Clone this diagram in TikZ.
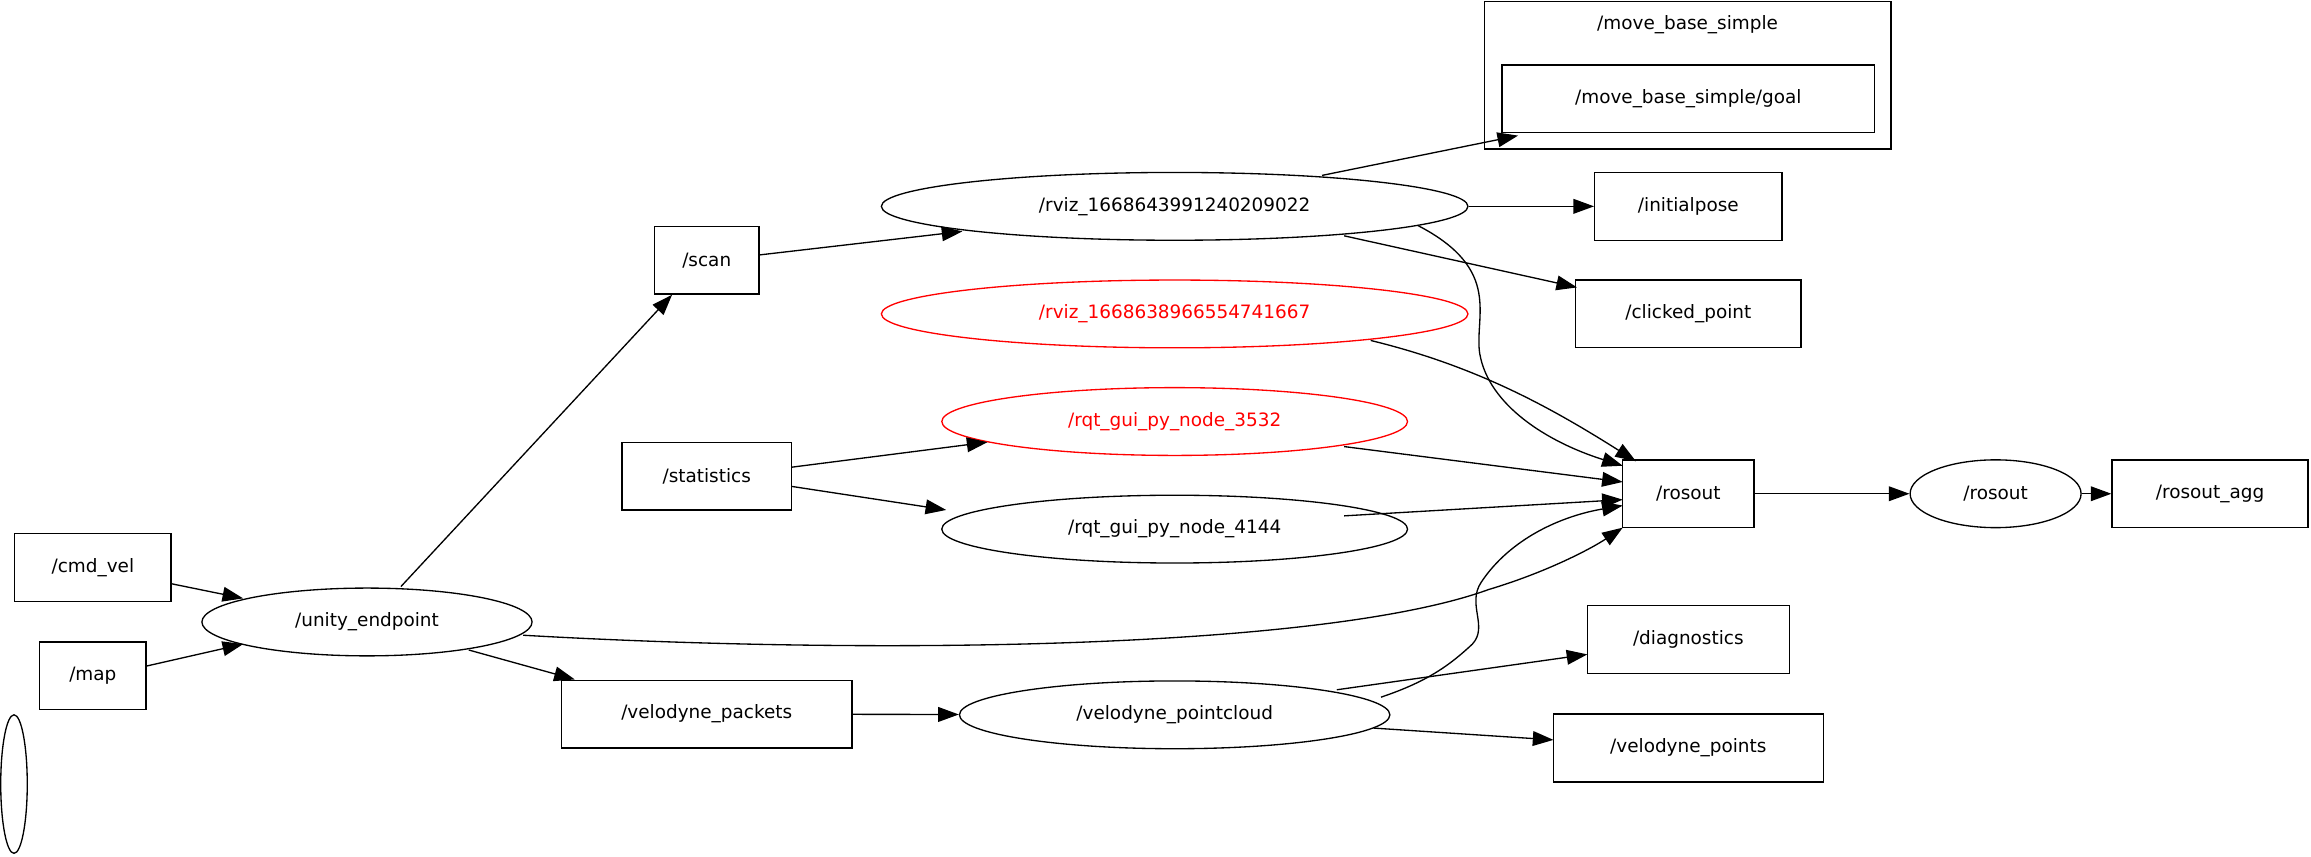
\documentclass[tikz,border=0pt]{standalone}
\usepackage{fontspec}
\setmainfont{DejaVu Sans}
\usetikzlibrary{arrows.meta,shapes.geometric}
\begin{document}
\begin{tikzpicture}[x=1pt,y=-1pt,
  every node/.style={font=\fontsize{12.5}{14}\selectfont, inner sep=0pt},
  box/.style={draw,line width=0.9pt,minimum width=#1,minimum height=46pt},
  ell/.style={draw,ellipse,line width=0.9pt,minimum height=46pt},
  red ell/.style={ell,draw=red,text=red},
  e/.style={line width=0.9pt,-{Triangle[length=14pt,width=10pt]}}]
\useasboundingbox (0,0) rectangle (1568,581);
\draw[line width=0.9pt] (1007,1) rectangle (1283,101);
\node (cl) at (1145,17) {/move\_base\_simple};
\node[box=253pt] (goal) at (1145.5,67) {/move\_base\_simple/goal};
\node[ell,minimum width=398pt] (rv1) at (797,140) {/rviz\_1668643991240209022};
\node[box=127pt] (ip) at (1145.5,140) {/initialpose};
\node[box=153pt] (cp) at (1145.5,213) {/clicked\_point};
\node[red ell,minimum width=398pt] (rv2) at (797,213) {/rviz\_1668638966554741667};
\node[box=71pt] (scan) at (479.5,176.5) {/scan};
\node[box=115pt] (stat) at (479.5,323) {/statistics};
\node[red ell,minimum width=316pt] (q1) at (797,286) {/rqt\_gui\_py\_node\_3532};
\node[ell,minimum width=316pt] (q2) at (797,359) {/rqt\_gui\_py\_node\_4144};
\node[box=89pt] (ro) at (1145.5,335) {/rosout};
\node[ell,minimum width=116pt] (roe) at (1354,335) {/rosout};
\node[box=133pt] (agg) at (1499.5,335) {/rosout\_agg};
\node[box=106pt] (cmd) at (63,385) {/cmd\_vel};
\node[box=72pt] (map) at (63,458.5) {/map};
\node[ell,minimum width=224pt] (un) at (249,422) {/unity\_endpoint};
\node[box=197pt] (vp) at (479.5,484.5) {/velodyne\_packets};
\node[ell,minimum width=292pt] (pc) at (797,485) {/velodyne\_pointcloud};
\node[box=137pt] (dg) at (1145.5,434) {/diagnostics};
\node[box=183pt] (vpt) at (1145.5,507.5) {/velodyne\_points};
\node[ell,minimum width=18pt,minimum height=94pt] (sm) at (9.5,532) {};

\draw[e] (897,119) -- (1030,92);
\draw[e] (rv1) -- (ip);
\draw[e] (912,160) -- (1070,195);
\draw[e] (962,153) .. controls (1020,183) and (1000,215) .. (1004,240) .. controls (1010,275) and (1050,300) .. (1101,316);
\draw[e] (930,231) .. controls (1000,248) and (1050,275) .. (1110,313);
\draw[e] (515,173) -- (653,157);
\draw[e] (272,398) -- (456,200);
\draw[e] (537,317) -- (670,300);
\draw[e] (537,330) -- (642,346);
\draw[e] (912,303) -- (1101,327);
\draw[e] (912,350) -- (1101,339);
\draw[e] (355,431) .. controls (600,445) and (900,440) .. (1010,400) .. controls (1050,388) and (1080,372) .. (1101,358);
\draw[e] (937,473) .. controls (970,462) and (985,450) .. (999,437) .. controls (1010,425) and (995,410) .. (1005,395) .. controls (1025,365) and (1060,350) .. (1101,343);
\draw[e] (116,396) -- (165,406);
\draw[e] (99,452) -- (165,437);
\draw[e] (318,441) -- (390,461);
\draw[e] (vp) -- (pc);
\draw[e] (907,468) -- (1077,444);
\draw[e] (932,494) -- (1054,502);
\draw[e] (ro) -- (roe);
\draw[e] (roe) -- (agg);
\end{tikzpicture}
\end{document}
